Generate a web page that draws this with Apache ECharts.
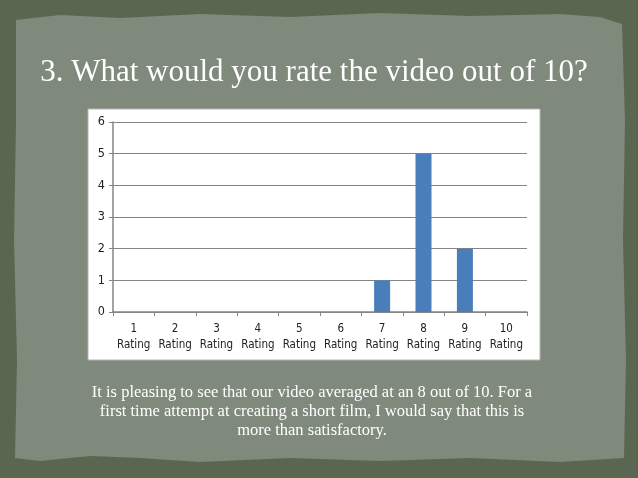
<!DOCTYPE html>
<html>
<head>
<meta charset="utf-8">
<script src="https://cdn.jsdelivr.net/npm/echarts@6/dist/echarts.min.js"></script>
<style>
html,body{margin:0;padding:0;background:#5a6650;}
#c{width:638px;height:478px;}
</style>
</head>
<body>
<div id="c"></div>
<script>
var categories = ['1\nRating','2\nRating','3\nRating','4\nRating','5\nRating','6\nRating','7\nRating','8\nRating','9\nRating','10\nRating'];
var counts = [0,0,0,0,0,0,1,5,2,0];
var yTicks = {min:0, max:6, interval:1};
var titleText = '3. What would you rate the video out of 10?';
var bodyText = 'It is pleasing to see that our video averaged at an 8 out of 10. For a\nfirst time attempt at creating a short film, I would say that this is\nmore than satisfactory.';

var chart = echarts.init(document.getElementById('c'));
chart.setOption({
  animation: false,
  backgroundColor: '#5a6650',
  graphic: [
    {type:'polygon', z:-20, shape:{points:[[16,20],[60,15],[120,18],[200,14],[290,17],[380,13],[470,16],[560,14],[600,17],[622,24],[625,120],[623,240],[626,360],[624,458],[560,462],[470,458],[380,461],[290,458],[200,462],[140,458],[90,456],[40,461],[15,458],[17,360],[14,240],[16,120]]}, style:{fill:'#7f897c'}},
    {type:'rect', z:-10, shape:{x:88,y:109,width:452,height:251}, style:{fill:'#ffffff', stroke:'#b5b5b5', lineWidth:1}},
    {type:'text', z:10, x:314, y:73, style:{text:titleText, fill:'#ffffff', font:'31px "Liberation Serif"', align:'center', verticalAlign:'middle'}},
    {type:'text', z:10, x:312, y:412, style:{text:bodyText, fill:'#ffffff', font:'16.5px "Liberation Serif"', lineHeight:19, align:'center', verticalAlign:'middle'}}
  ],
  grid: {left:113, top:122, width:414, height:190, containLabel:false},
  xAxis: {
    type:'category', data:categories,
    axisLine:{show:true, lineStyle:{color:'#858585', width:1.5}},
    axisTick:{show:true, length:4, lineStyle:{color:'#858585', width:1}},
    axisLabel:{color:'#222222', fontSize:11.5, fontFamily:'"DejaVu Sans Condensed", "DejaVu Sans"', lineHeight:16, margin:9, interval:0},
    splitLine:{show:false}
  },
  yAxis: {
    type:'value', min:yTicks.min, max:yTicks.max, interval:yTicks.interval,
    axisLine:{show:true, lineStyle:{color:'#858585', width:1.5}},
    axisTick:{show:true, length:4, lineStyle:{color:'#858585', width:1}},
    axisLabel:{color:'#222222', fontSize:12.5, fontFamily:'"DejaVu Sans Condensed", "DejaVu Sans"', margin:8},
    splitLine:{show:true, lineStyle:{color:'#858585', width:1.2}}
  },
  series: [{
    type:'bar', data:counts, barWidth:16,
    itemStyle:{color:'#4a7ebb'}
  }]
});
</script>
</body>
</html>
